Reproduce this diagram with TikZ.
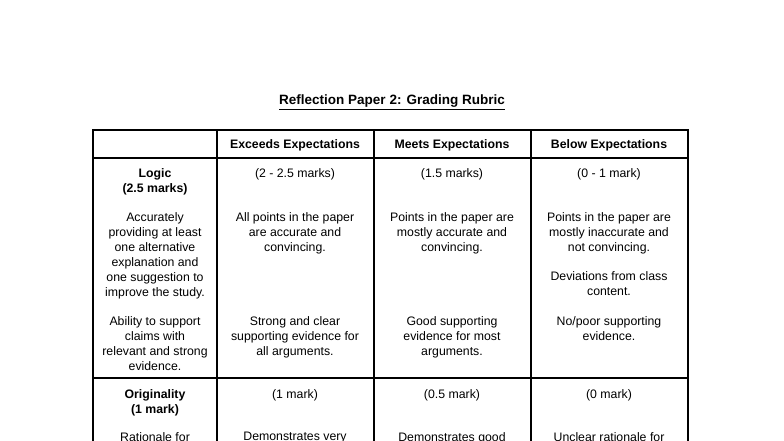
\documentclass[tikz,border=0pt]{standalone}
\usepackage{fontspec}
\setmainfont{Liberation Sans}
\begin{document}
\begin{tikzpicture}[x=1pt,y=-1pt,
  cell/.style={align=center,font=\fontsize{12.3}{15}\selectfont,inner sep=0pt,anchor=north},
  hd/.style={cell,font=\fontsize{12.3}{15}\selectfont\bfseries}]
\useasboundingbox (0,0) rectangle (784,441);
\clip (0,0) rectangle (784,441);
\node[cell,font=\fontsize{13.5}{15}\selectfont\bfseries] (title) at (392,95) {\underline{Reflection Paper 2: Grading Rubric}};
% grid
\draw[line width=1.6pt] (93,450) -- (93,130) -- (688,130) -- (688,450);
\draw[line width=1.2pt] (217,130) -- (217,450) (374,130) -- (374,450) (531,130) -- (531,450);
\draw[line width=1.2pt] (93,158) -- (688,158) (93,378) -- (688,378);
% header
\node[hd] (h1) at (295,139) {Exceeds Expectations};
\node[hd] (h2) at (452,139) {Meets Expectations};
\node[hd] (h3) at (609,139) {Below Expectations};
% logic row
\node[hd] (l0) at (155,168) {Logic\\(2.5 marks)};
\node[cell] (l1) at (295,168) {(2 - 2.5 marks)};
\node[cell] (l2) at (452,168) {(1.5 marks)};
\node[cell] (l3) at (609,168) {(0 - 1 mark)};
\node[cell] (a0) at (155,212) {Accurately\\providing at least\\one alternative\\explanation and\\one suggestion to\\improve the study.};
\node[cell] (a1) at (295,212) {All points in the paper\\are accurate and\\convincing.};
\node[cell] (a2) at (452,212) {Points in the paper are\\mostly accurate and\\convincing.};
\node[cell] (a3) at (609,212) {Points in the paper are\\mostly inaccurate and\\not convincing.\\[14.5pt]Deviations from class\\content.};
\node[cell] (b0) at (155,316) {Ability to support\\claims with\\relevant and strong\\evidence.};
\node[cell] (b1) at (295,316) {Strong and clear\\supporting evidence for\\all arguments.};
\node[cell] (b2) at (452,316) {Good supporting\\evidence for most\\arguments.};
\node[cell] (b3) at (609,316) {No/poor supporting\\evidence.};
% originality row
\node[hd] (o0) at (155,389) {Originality\\(1 mark)};
\node[cell] (o1) at (295,389) {(1 mark)};
\node[cell] (o2) at (452,389) {(0.5 mark)};
\node[cell] (o3) at (609,389) {(0 mark)};
\node[cell] (r0) at (155,432) {Rationale for};
\node[cell] (r1) at (295,432) {Demonstrates very};
\node[cell] (r2) at (452,432) {Demonstrates good};
\node[cell] (r3) at (609,432) {Unclear rationale for};
\end{tikzpicture}
\end{document}
